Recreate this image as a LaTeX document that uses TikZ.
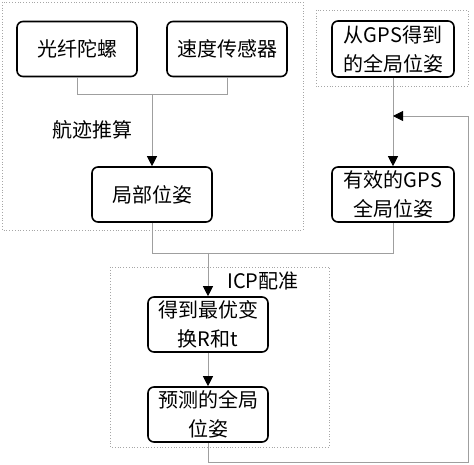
\documentclass[tikz,border=0pt]{standalone}
\usepackage{fontspec}
\setmainfont{Noto Sans CJK SC}
\usetikzlibrary{arrows.meta}
\tikzset{
  blk/.style={draw=black, line width=1.6pt, rounded corners=6pt, minimum width=120pt, minimum height=55pt, align=center, inner sep=2pt, font=\fontsize{20}{29}\selectfont},
  frame/.style={draw=gray!70, dotted, line width=0.8pt},
  conn/.style={draw=gray!75, line width=0.9pt},
  arr/.style={conn, -{Triangle[black, length=10pt, width=10pt]}},
  lbl/.style={font=\fontsize{20}{23}\selectfont, inner sep=0pt}
}
\begin{document}
\begin{tikzpicture}[x=1pt,y=-1pt]
\useasboundingbox (0,0) rectangle (474,465);
% frames
\draw[frame] (2,2) rectangle (303,230);
\draw[frame] (316,10) rectangle (468,86);
\draw[frame] (110,267) rectangle (329,447);
% boxes
\node[blk] (gyro) at (77,49) {光纤陀螺};
\node[blk] (speed) at (227,49) {速度传感器};
\node[blk] (local) at (152,194.5) {局部位姿};
\node[blk, minimum width=122pt, minimum height=56pt] (gpsfrom) at (393,49) {从GPS得到\\的全局位姿};
\node[blk, minimum width=122pt] (gpsvalid) at (393,194.5) {有效的GPS\\全局位姿};
\node[blk] (opt) at (208,324.5) {得到最优变\\换R和t};
\node[blk] (pred) at (208,414.5) {预测的全局\\位姿};
% labels
\node[lbl] (dr) at (92,130) {航迹推算};
\node[lbl] (icp) at (263,281) {ICP配准};
% junctions
\coordinate (j1) at (152,94);
\coordinate (j2) at (208,253);
\coordinate (fb) at (393,116);
\coordinate (c1) at (468,462);
% connectors
\draw[conn] (gyro.south) |- (j1);
\draw[conn] (speed.south) |- (j1);
\draw[arr] (j1) -- (local.north);
\draw[arr] (gpsfrom.south) -- (gpsvalid.north);
\draw[conn] (local.south) |- (j2);
\draw[conn] (gpsvalid.south) |- (j2);
\draw[arr] (j2) -- (opt.north);
\draw[arr] (opt.south) -- (pred.north);
\draw[arr] (pred.south) |- (c1) |- (fb);
\end{tikzpicture}
\end{document}
